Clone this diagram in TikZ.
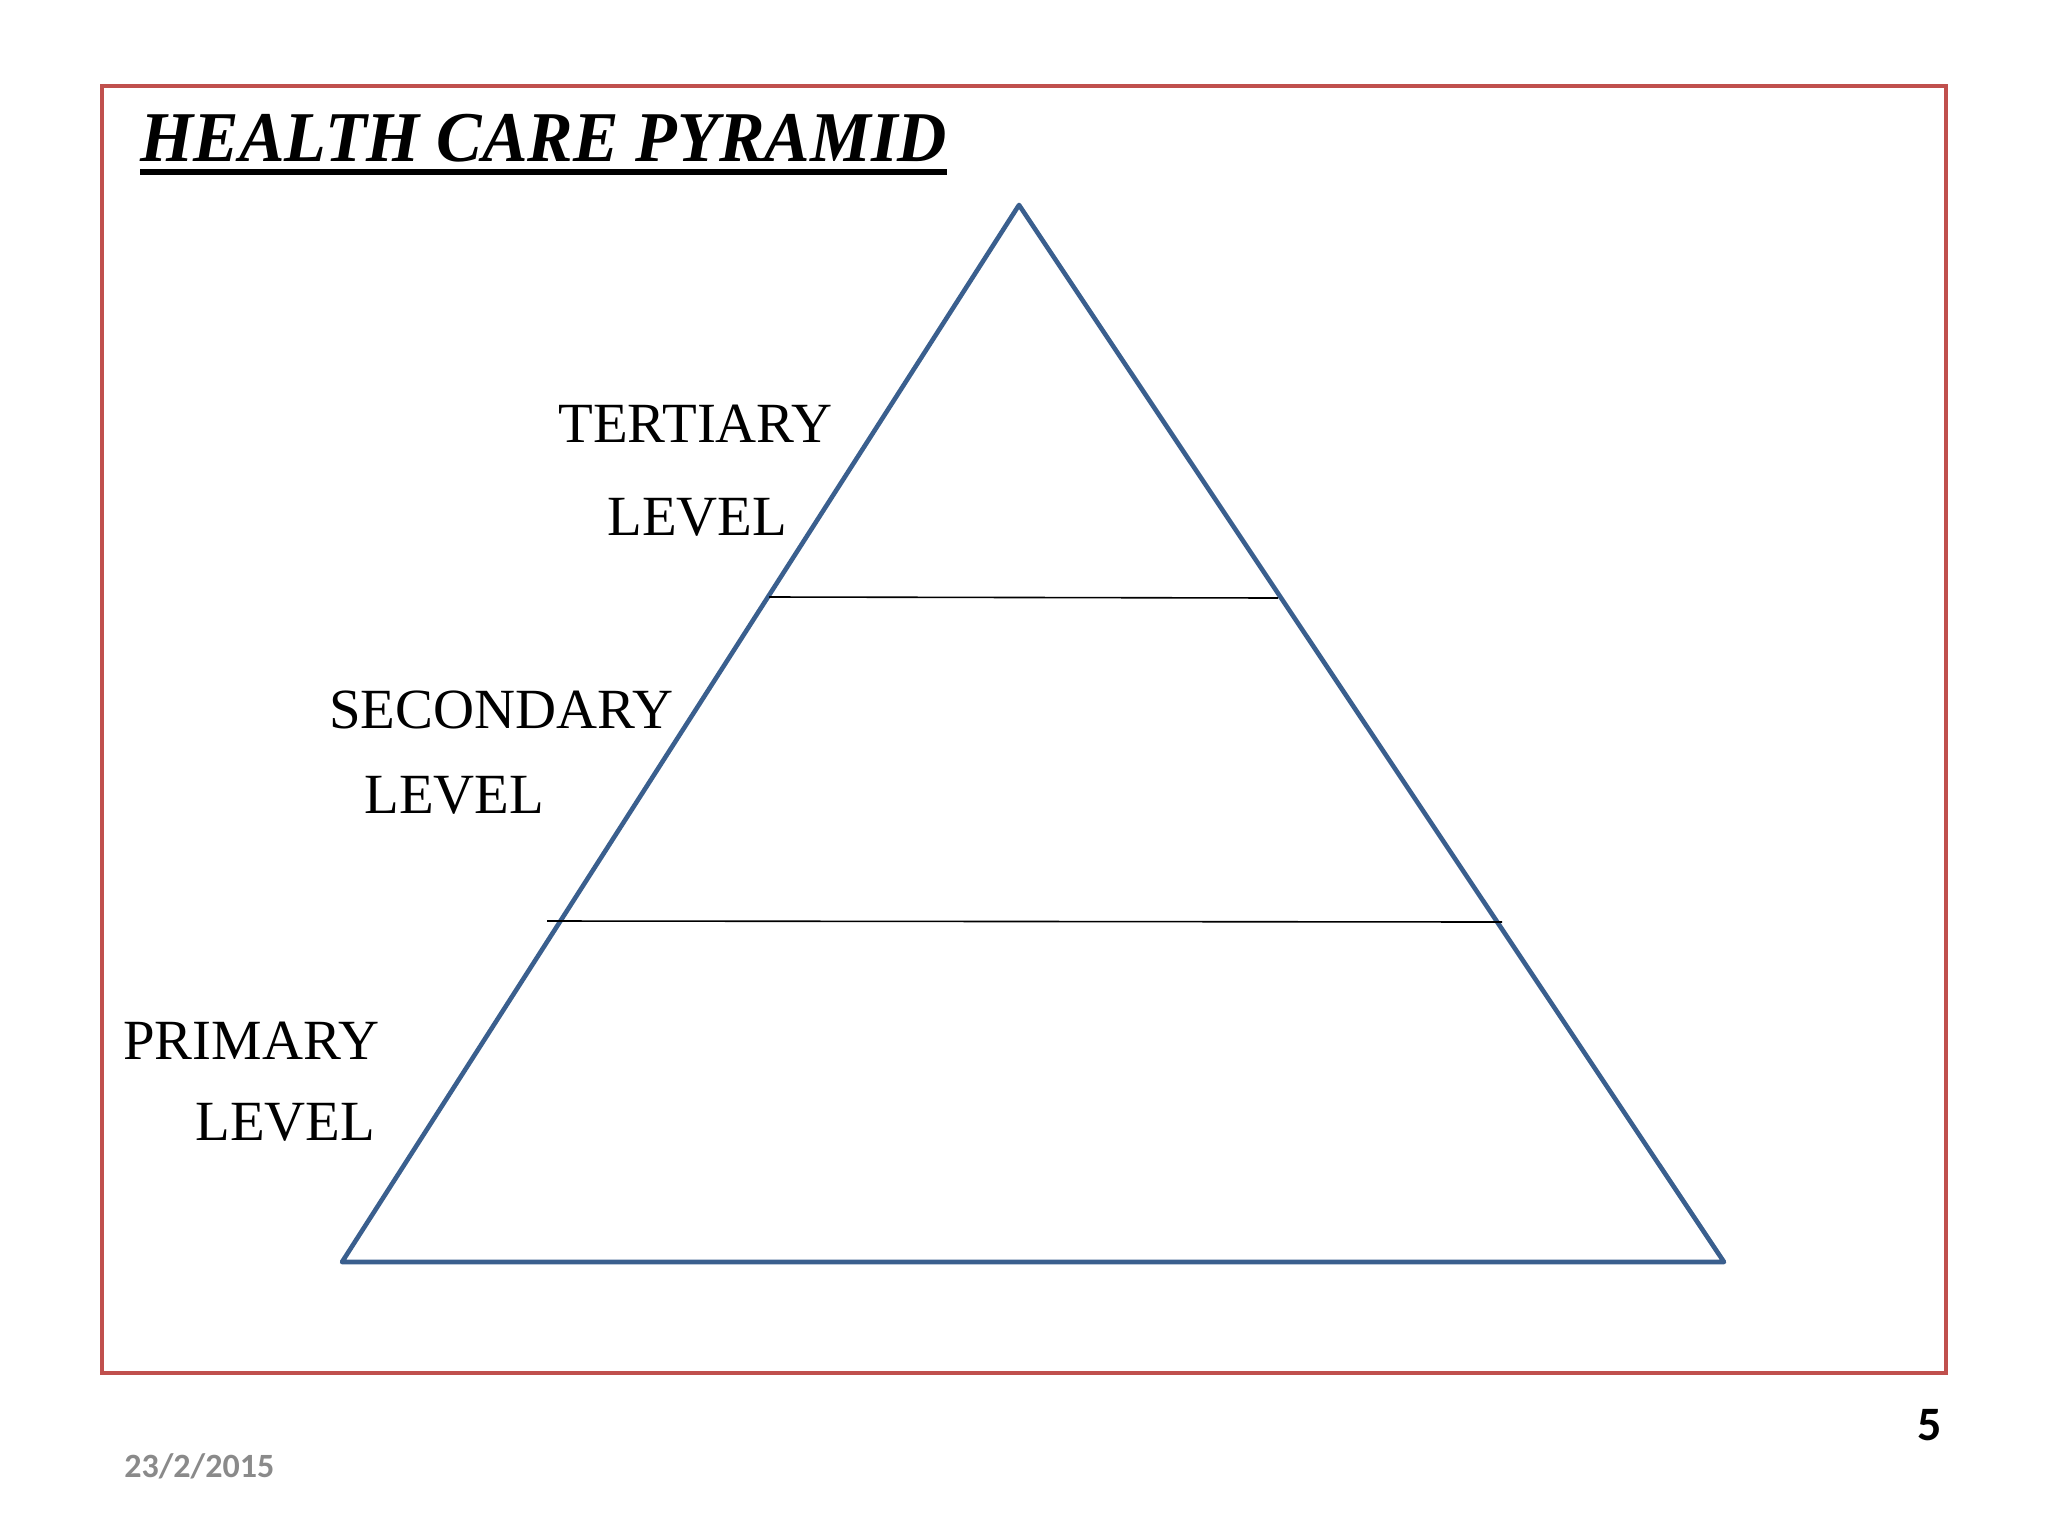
\documentclass[tikz,border=0pt]{standalone}
\usepackage{fontspec}
\setmainfont{Liberation Serif}
\newfontfamily\carlito{Carlito}
\definecolor{framered}{HTML}{C0504D}
\definecolor{pyrblue}{HTML}{3A5F8E}
\definecolor{dategray}{HTML}{8A8A8A}
\begin{document}
\begin{tikzpicture}[x=0.5pt,y=-0.5pt,
  lbl/.style={inner sep=0pt,font=\fontsize{28.4}{30}\selectfont,text=black},
  sideline/.style={line width=2.3pt,draw=pyrblue,line join=round},
  tierline/.style={line width=0.8pt,draw=black}]
\useasboundingbox[fill=white] (0,0) rectangle (2048,1536);
% frame
\draw[draw=framered,line width=2.2pt] (102,86) rectangle (1946,1373);
% title
\node[inner sep=0pt,anchor=base west,font=\fontsize{35}{38}\selectfont\bfseries\itshape] (title) at (140,161) {\scalebox{0.975}[1.02]{HEALTH CARE PYRAMID}};
\draw[line width=2.8pt] ([yshift=-5.5pt]title.base west) -- ([yshift=-5.5pt]title.base east);
% pyramid
\coordinate (apex) at (1019,205);
\coordinate (bl) at (342,1262);
\coordinate (br) at (1724,1262);
\draw[sideline] (apex) -- (bl) -- (br) -- cycle;
\coordinate (t1l) at (769,597);
\coordinate (t1r) at (1278,598);
\coordinate (t2l) at (547,921);
\coordinate (t2r) at (1502,922);
\draw[tierline] (t1l) -- (t1r);
\draw[tierline] (t2l) -- (t2r);
% labels
\node[lbl,anchor=west] (tert) at (558,424) {TERTIARY};
\node[lbl,anchor=west] (tertl) at (607,517) {LEVEL};
\node[lbl,anchor=west] (sec) at (329,710) {SECONDARY};
\node[lbl,anchor=west] (secl) at (364,795) {LEVEL};
\node[lbl,anchor=west] (prim) at (123,1041) {PRIMARY};
\node[lbl,anchor=west] (priml) at (195,1122) {LEVEL};
% footer
\node[inner sep=0pt,anchor=center,font=\carlito\bfseries\fontsize{24}{26}\selectfont] (page) at (1930,1425) {5};
\node[inner sep=0pt,anchor=west,text=dategray,font=\carlito\bfseries\fontsize{17}{19}\selectfont] (date) at (124,1466) {23/2/2015};
\end{tikzpicture}
\end{document}
